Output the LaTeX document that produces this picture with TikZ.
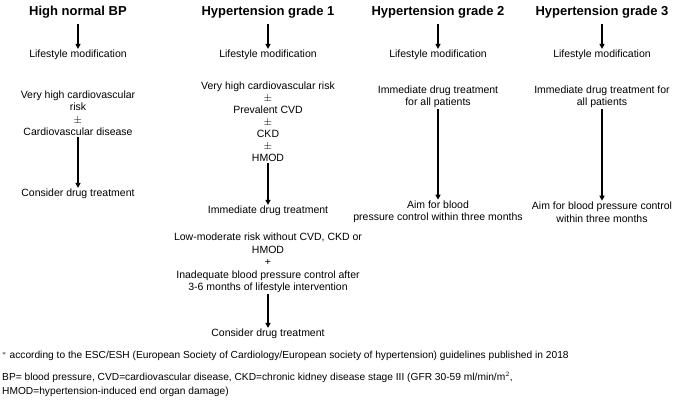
\documentclass[tikz,border=0pt]{standalone}
\usepackage{fontspec}
\setmainfont{Liberation Sans}
\usetikzlibrary{arrows.meta}
\tikzstyle{txt}=[align=center, font=\fontsize{10.5}{12.5}\selectfont, inner sep=1pt]
\tikzstyle{head}=[font=\fontsize{13}{14}\selectfont\bfseries, inner sep=1pt]
\tikzstyle{note}=[anchor=west, align=left, font=\fontsize{10.2}{14}\selectfont, inner sep=0pt]
\tikzset{flow/.style={-{Triangle[length=5pt,width=5pt]}, line width=1.6pt}}
\begin{document}
\begin{tikzpicture}[x=1pt, y=-1pt]
\useasboundingbox (0,0) rectangle (685,401);
% column 1
\node[head] (h1) at (78,12) {High normal BP};
\node[txt] (l1) at (78,55) {Lifestyle modification};
\node[txt] (r1) at (78,113) {Very high cardiovascular\\risk\\$\pm$\\Cardiovascular disease};
\node[txt] (c1) at (78,194) {Consider drug treatment};
% column 2
\node[head] (h2) at (268,12) {Hypertension grade 1};
\node[txt] (l2) at (268,55) {Lifestyle modification};
\node[txt] (r2) at (268,122) {Very high cardiovascular risk\\[-0.5pt]$\pm$\\[-0.5pt]Prevalent CVD\\[-0.5pt]$\pm$\\[-0.5pt]CKD\\[-0.5pt]$\pm$\\[-0.5pt]HMOD};
\node[txt] (i2) at (268,211) {Immediate drug treatment};
\node[txt] (m2) at (268,263) {Low-moderate risk without CVD, CKD or\\HMOD\\+\\Inadequate blood pressure control after\\3-6 months of lifestyle intervention};
\node[txt] (c2) at (268,334) {Consider drug treatment};
% column 3
\node[head] (h3) at (438,12) {Hypertension grade 2};
\node[txt] (l3) at (438,55) {Lifestyle modification};
\node[txt] (i3) at (438,97) {Immediate drug treatment\\for all patients};
\node[txt] (a3) at (438,212) {Aim for blood\\pressure control within three months};
% column 4
\node[head] (h4) at (602,12) {Hypertension grade 3};
\node[txt] (l4) at (602,55) {Lifestyle modification};
\node[txt] (i4) at (602,97) {Immediate drug treatment for\\all patients};
\node[txt] (a4) at (602,212) {Aim for blood pressure control\\within three months};
% arrows
\draw[flow] (78,24) -- (l1);
\draw[flow] (r1) -- (c1);
\draw[flow] (268,24) -- (l2);
\draw[flow] (r2) -- (i2);
\draw[flow] (m2) -- (c2);
\draw[flow] (438,24) -- (l3);
\draw[flow] (i3) -- (a3);
\draw[flow] (602,24) -- (l4);
\draw[flow] (i4) -- (a4);
% notes
\node[note] (n1) at (2,356) {$^{*}$ according to the ESC/ESH (European Society of Cardiology/European society of hypertension) guidelines published in 2018};
\node[note] (n2) at (2,384) {BP= blood pressure, CVD=cardiovascular disease, CKD=chronic kidney disease stage III (GFR 30-59 ml/min/m$^2$,\\HMOD=hypertension-induced end organ damage)};
\end{tikzpicture}
\end{document}
